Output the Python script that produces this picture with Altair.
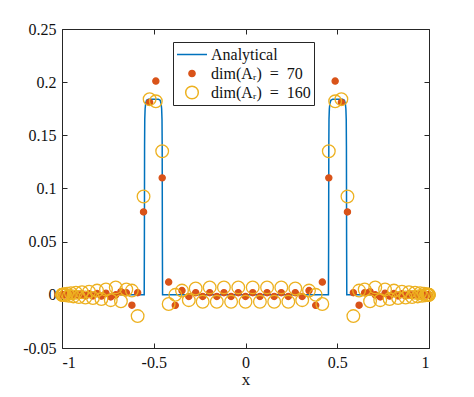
import altair as alt
import pandas as pd

# evaluation grid
grid_x = [
    -1.0, -0.9992, -0.9969, -0.9931, -0.9877, -0.9808, -0.9724, -0.9625, -0.9511, -0.9382,
    -0.9239, -0.9081, -0.8910, -0.8725, -0.8526, -0.8315, -0.8090, -0.7853, -0.7604, -0.7343,
    -0.7071, -0.6788, -0.6495, -0.6191, -0.5878, -0.5556, -0.5225, -0.4886, -0.4540, -0.4187,
    -0.3827, -0.3461, -0.3090, -0.2714, -0.2334, -0.1951, -0.1564, -0.1175, -0.0785, -0.0393,
    0.0,
    0.0393, 0.0785, 0.1175, 0.1564, 0.1951, 0.2334, 0.2714, 0.3090, 0.3461, 0.3827,
    0.4187, 0.4540, 0.4886, 0.5225, 0.5556, 0.5878, 0.6191, 0.6495, 0.6788, 0.7071,
    0.7343, 0.7604, 0.7853, 0.8090, 0.8315, 0.8526, 0.8725, 0.8910, 0.9081, 0.9239,
    0.9382, 0.9511, 0.9625, 0.9724, 0.9808, 0.9877, 0.9931, 0.9969, 0.9992, 1.0,
]

dim70_y = [
    0, 0, 0, 0, 0, 0, 0.0005, -0.0005, 0.0005, -0.0005,
    0.0008, -0.0008, 0.001, -0.001, 0.001, -0.001, 0.0012, -0.0012, 0.0015, -0.002,
    0, 0.003, 0.002, -0.0097, 0.002, 0.078, 0.181, 0.201, 0.110, 0.012,
    -0.0099, 0.004, -0.0015, 0.002, -0.0015, 0.002, -0.0015, 0.002, -0.0015, 0.002,
    -0.0015,
    0.002, -0.0015, 0.002, -0.0015, 0.002, -0.0015, 0.002, -0.0015, 0.004, -0.0099,
    0.012, 0.110, 0.201, 0.181, 0.078, 0.002, -0.0097, 0.002, 0.003, 0,
    -0.002, 0.0015, -0.0012, 0.0012, -0.001, 0.001, -0.001, 0.001, -0.0008, 0.0008,
    -0.0005, 0.0005, -0.0005, 0.0005, 0, 0, 0, 0, 0, 0,
]

dim160_y = [
    0, 0, 0, 0, 0.0005, -0.0005, 0.001, -0.001, 0.0015, -0.0015,
    0.002, -0.002, 0.0025, -0.0025, 0.003, -0.003, 0.004, -0.004, 0.005, -0.005,
    0.007, -0.006, 0.005, 0.004, -0.020, 0.0925, 0.184, 0.182, 0.135, -0.0086,
    0.0, 0.004, -0.005, 0.006, -0.0065, 0.007, -0.0065, 0.007, -0.0065, 0.007,
    -0.0065,
    0.007, -0.0065, 0.007, -0.0065, 0.007, -0.0065, 0.006, -0.005, 0.004, 0.0,
    -0.0086, 0.135, 0.182, 0.184, 0.0925, -0.020, 0.004, 0.005, -0.006, 0.007,
    -0.005, 0.005, -0.004, 0.004, -0.003, 0.003, -0.0025, 0.0025, -0.002, 0.002,
    -0.0015, 0.0015, -0.001, 0.001, -0.0005, 0.0005, 0, 0, 0, 0,
]

analytical_x = [
    -1.0, -0.552, -0.551, -0.550, -0.549, -0.547, -0.544, -0.539, -0.529,
    -0.475, -0.465, -0.460, -0.457, -0.455, -0.454, -0.453, -0.452,
    0.452, 0.453, 0.454, 0.455, 0.457, 0.460, 0.465, 0.475,
    0.529, 0.539, 0.544, 0.547, 0.549, 0.550, 0.551, 0.552, 1.0,
]
analytical_y = [
    0, 0, 0.05, 0.14, 0.165, 0.175, 0.180, 0.183, 0.184,
    0.184, 0.183, 0.180, 0.175, 0.165, 0.14, 0.05, 0,
    0, 0.05, 0.14, 0.165, 0.175, 0.180, 0.183, 0.184,
    0.184, 0.183, 0.180, 0.175, 0.165, 0.14, 0.05, 0, 0,
]

x_ticks = [-1, -0.5, 0, 0.5, 1]
y_ticks = [-0.05, 0, 0.05, 0.1, 0.15, 0.2, 0.25]
series_names = ["Analytical", "dim(Aᵣ)\u2002=\u200270", "dim(Aᵣ)\u2002=\u2002160"]

FONT = "Liberation Serif, Times New Roman, DejaVu Serif, serif"
TXT = "#111111"
FRAME = "#262626"

line_df = pd.DataFrame({"x": analytical_x, "y": analytical_y})
pts_df = pd.concat([
    pd.DataFrame({"x": grid_x, "y": dim70_y, "series": series_names[1]}),
    pd.DataFrame({"x": grid_x, "y": dim160_y, "series": series_names[2]}),
], ignore_index=True)
pts_df["idx"] = range(len(pts_df))

xs = alt.Scale(domain=[-1, 1], nice=False, zero=False)
ys = alt.Scale(domain=[-0.05, 0.25], nice=False, zero=False)


def tick_axis(orient, values):
    return alt.Axis(orient=orient, offset=-5, values=values, ticks=True, tickSize=5,
                    tickColor=FRAME, tickWidth=1, labels=False, domain=False,
                    grid=False, title=None)


main_x = alt.Axis(orient="bottom", values=x_ticks, ticks=False, domain=False, grid=False,
                  labelFont=FONT, labelFontSize=16, labelColor=TXT, labelPadding=6,
                  labelExpr="toString(datum.value)", title="x", titleFont=FONT,
                  titleFontSize=17, titleFontWeight="normal", titleColor=TXT,
                  titlePadding=1)
main_y = alt.Axis(orient="left", values=y_ticks, ticks=False, domain=False, grid=False,
                  labelFont=FONT, labelFontSize=16, labelColor=TXT, labelPadding=6,
                  labelExpr="toString(datum.value)", title=None)

line = alt.Chart(line_df).mark_line(color="#0072BD", strokeWidth=1.5).encode(
    x=alt.X("x:Q", scale=xs, axis=main_x),
    y=alt.Y("y:Q", scale=ys, axis=main_y),
)

pts = alt.Chart(pts_df).mark_point(strokeWidth=1.3, opacity=1).encode(
    x=alt.X("x:Q", scale=xs, axis=tick_axis("bottom", x_ticks)),
    y=alt.Y("y:Q", scale=ys, axis=tick_axis("left", y_ticks)),
    shape=alt.Shape("series:N", scale=alt.Scale(domain=series_names,
                                                  range=["stroke", "circle", "circle"]),
                    legend=alt.Legend(title=None, orient="none", legendX=111, legendY=13,
                                      strokeColor=FRAME, fillColor="white", padding=3,
                                      rowPadding=0, clipHeight=19, labelOffset=3,
                                      labelFont=FONT, labelFontSize=16, labelColor=TXT,
                                      symbolStrokeWidth=1.5, cornerRadius=0)),
    fill=alt.Fill("series:N", scale=alt.Scale(domain=series_names,
                                                range=["transparent", "#D95319", "transparent"]),
                  legend=alt.Legend(title=None)),
    stroke=alt.Stroke("series:N", scale=alt.Scale(domain=series_names,
                                                    range=["#0072BD", "#D95319", "#EDB120"]),
                      legend=alt.Legend(title=None)),
    size=alt.Size("series:N", scale=alt.Scale(type="ordinal", domain=series_names,
                                                range=[900, 38, 160]),
                  legend=alt.Legend(title=None)),
    order=alt.Order("idx:Q"),
)

hidden = alt.Chart(line_df).mark_line(opacity=0).encode(
    x=alt.X("x:Q", scale=xs, axis=tick_axis("top", x_ticks)),
    y=alt.Y("y:Q", scale=ys, axis=tick_axis("right", y_ticks)),
)

chart = alt.layer(line, pts, hidden).resolve_axis(
    x="independent", y="independent"
).properties(
    width=367, height=319,
    padding={"left": 54, "top": 21, "right": 37, "bottom": 41},
    autosize=alt.AutoSizeParams(type="none"),
    background="white",
).configure_view(stroke=FRAME, strokeWidth=1)

chart.save("out.html", embed_options={"renderer": "svg", "actions": False})
